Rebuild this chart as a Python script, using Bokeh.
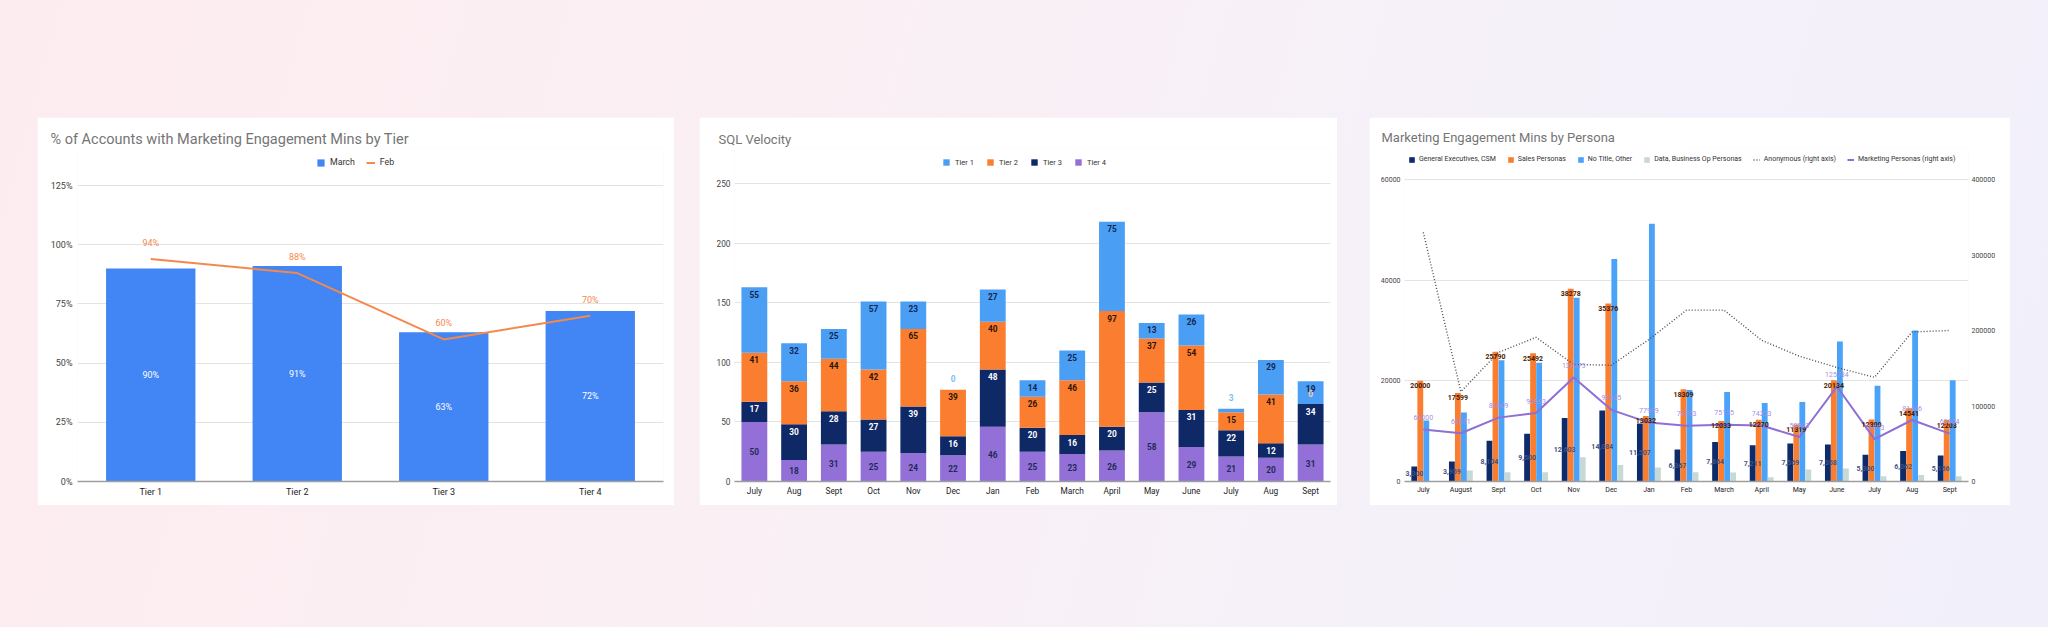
import numpy as np
from bokeh.plotting import figure
from bokeh.models import (ColumnDataSource, Range1d, FixedTicker, LinearAxis, Legend,
                          LegendItem, PrintfTickFormatter)
from bokeh.layouts import row
from bokeh.embed import file_html
from bokeh.resources import INLINE
from bokeh.core.properties import value

FONT = "Roboto"

# ---------------- data ----------------
# Panel 1
tiers = ["Tier 1", "Tier 2", "Tier 3", "Tier 4"]
march_pct = [90, 91, 63, 72]
feb_pct = [94, 88, 60, 70]

# Panel 2
sql_months = ["July", "Aug", "Sept", "Oct", "Nov", "Dec", "Jan", "Feb", "March",
              "April", "May", "June", "July", "Aug", "Sept"]
tier1 = [55, 32, 25, 57, 23, 0, 27, 14, 25, 75, 13, 26, 3, 29, 19]
tier2 = [41, 36, 44, 42, 65, 39, 40, 26, 46, 97, 37, 54, 15, 41, 0]
tier3 = [17, 30, 28, 27, 39, 16, 48, 20, 16, 20, 25, 31, 22, 12, 34]
tier4 = [50, 18, 31, 25, 24, 22, 46, 25, 23, 26, 58, 29, 21, 20, 31]

# Panel 3
persona_months = ["July", "August", "Sept", "Oct", "Nov", "Dec", "Jan", "Feb", "March",
                  "April", "May", "June", "July", "Aug", "Sept"]
gen_exec = [3000, 3959, 8104, 9500, 12603, 14084, 11507, 6367, 7864, 7211, 7569, 7358, 5300, 6062, 5156]
sales = [20000, 17599, 25790, 25492, 38278, 35376, 13032, 18309, 12033, 12270, 11319, 20134, 12300, 14541, 12203]
no_title = [12100, 13700, 24100, 23600, 36500, 44200, 51200, 18200, 17800, 15600, 15800, 27800, 19000, 30000, 20100]
data_bizops = [0, 2200, 1850, 1850, 4800, 3300, 2760, 1850, 1800, 850, 2400, 2600, 1050, 1300, 1050]
anonymous = [330000, 119000, 171000, 191000, 155000, 154000, 188000, 227000, 227000, 187000,
             166000, 151000, 138000, 198000, 200000]
marketing = [69000, 63891, 84609, 90603, 137875, 94905, 77989, 73933, 75125, 74223, 58923,
             125784, 56073, 81446, 63334]

# ---------------- layout constants (page pixels) ----------------
CARD_TOP, CARD_BOTTOM = 117, 505
CARD_H = CARD_BOTTOM - CARD_TOP
FRAME_TOP, FRAME_BOTTOM = 148, 481   # shared by the three panels (row aligns frames)
GRID = "#e3e3e3"
AXIS = "#9e9e9e"
TICK_TXT = "#444444"
TITLE_TXT = "#757575"


def base_fig(card, frame_lr, grid_top, ymax, n, labels, margin_left, xfs, yfs, ystand, xstand):
    cl, cr = card
    fl, fr = frame_lr
    ft, fb = FRAME_TOP, FRAME_BOTTOM
    y_end = ymax * (fb - ft) / (fb - grid_top)
    p = figure(width=cr - cl, height=CARD_H, x_range=Range1d(-0.5, n - 0.5), y_range=Range1d(0, y_end),
               output_backend="svg", toolbar_location=None,
               min_border_left=fl - cl, min_border_right=cr - fr, min_border_top=ft - CARD_TOP,
               min_border_bottom=CARD_BOTTOM - fb, margin=(CARD_TOP, 0, 0, margin_left))
    p.border_fill_color = "white"
    p.background_fill_color = "white"
    p.outline_line_color = None
    p.xgrid.grid_line_color = None
    p.ygrid.grid_line_color = GRID
    p.ygrid.grid_line_width = 1
    xa = p.xaxis[0]
    xa.ticker = FixedTicker(ticks=list(range(n)))
    xa.major_label_overrides = {i: lab for i, lab in enumerate(labels)}
    xa.axis_line_color = AXIS
    xa.axis_line_width = 1.5
    xa.major_tick_line_color = None
    xa.minor_tick_line_color = None
    xa.major_tick_out = 0
    xa.major_label_standoff = xstand
    xa.major_label_text_font = FONT
    xa.major_label_text_font_size = xfs
    xa.major_label_text_color = "#222222"
    ya = p.yaxis[0]
    ya.axis_line_color = None
    ya.major_tick_line_color = None
    ya.minor_tick_line_color = None
    ya.major_tick_out = 0
    ya.major_label_standoff = ystand
    ya.major_label_text_font = FONT
    ya.major_label_text_font_size = yfs
    ya.major_label_text_color = TICK_TXT
    return p, y_end


def set_title(p, text, title_x, frame_left, size, standoff):
    p.title.text = text
    p.title.align = "left"
    p.title.offset = title_x - frame_left
    p.title.text_font = FONT
    p.title.text_font_size = size
    p.title.text_font_style = "normal"
    p.title.text_color = TITLE_TXT
    p.title.vertical_align = "middle"
    p.title.standoff = standoff


def make_legend(items, frame_left, glyph_left, center_y, fs, glyph, label_h, spacing, standoff):
    bottom = center_y + label_h / 2
    lg = Legend(items=items, location=(glyph_left - frame_left, FRAME_BOTTOM - bottom), orientation="horizontal",
                glyph_width=glyph, glyph_height=glyph, label_height=label_h,
                label_standoff=standoff, spacing=spacing, padding=0, margin=0,
                border_line_color=None, background_fill_alpha=0,
                label_text_font=FONT, label_text_font_size=fs, label_text_color="#333333",
                label_text_baseline="middle")
    return lg


# ---------------- Panel 1 ----------------
BLUE1 = "#4285f4"
ORANGE1 = "#f4894b"
n1 = len(tiers)
x1 = np.arange(n1)
card1 = (37, 674)
frame1 = (77, 663)
p1, _ = base_fig(card1, frame1, 185, 125, n1, tiers, 37, "9px", "9px", 5, 5)
p1.yaxis[0].ticker = FixedTicker(ticks=[0, 25, 50, 75, 100, 125])
p1.yaxis[0].formatter = PrintfTickFormatter(format="%d%%")
src1 = ColumnDataSource(dict(x=x1, march=march_pct, feb=feb_pct,
                             mid=[v / 2 for v in march_pct],
                             mlab=[f"{v}%" for v in march_pct],
                             flab=[f"{v}%" for v in feb_pct]))
r_bar1 = p1.vbar(x="x", top="march", width=0.61, source=src1, fill_color=BLUE1, line_color=None)
r_line1 = p1.line(x="x", y="feb", source=src1, line_color=ORANGE1, line_width=2)
p1.text(x="x", y="mid", text="mlab", source=src1, text_color="white", text_font=value(FONT),
        text_font_size="9px", text_align="center", text_baseline="middle")
p1.text(x="x", y="feb", text="flab", source=src1, text_color=ORANGE1, text_font=value(FONT),
        text_font_size="9px", text_align="center", text_baseline="middle", y_offset=-16)
set_title(p1, "% of Accounts with Marketing Engagement Mins by Tier", 50, frame1[0], "14.5px", 0)
p1.add_layout(make_legend([LegendItem(label="March", renderers=[r_bar1]),
                           LegendItem(label="Feb", renderers=[r_line1])],
                          frame1[0], 316, 162, "8.8px", 9, 12, 11, 5))

# ---------------- Panel 2 ----------------
T1C, T2C, T3C, T4C = "#4a9ff5", "#fb7d2f", "#0f2866", "#9370d8"
T1L, T2L = "#7dbcf7", "#fdc9a6"
n2 = len(sql_months)
x2 = np.arange(n2)
t1 = np.array(tier1); t2 = np.array(tier2); t3 = np.array(tier3); t4 = np.array(tier4)
b3 = t4; b2 = t4 + t3; b1 = t4 + t3 + t2; top1 = b1 + t1
card2 = (699, 1337)
frame2 = (734, 1330)
p2, _ = base_fig(card2, frame2, 183, 250, n2, sql_months, 25, "8.3px", "8.3px", 4, 4)
p2.yaxis[0].ticker = FixedTicker(ticks=[0, 50, 100, 150, 200, 250])
segs = [("Tier 4", t4, np.zeros(n2), t4, T4C), ("Tier 3", t3, b3, b2, T3C),
        ("Tier 2", t2, b2, b1, T2C), ("Tier 1", t1, b1, top1, T1C)]
rend2 = {}
for name, vals, bot, top, col in segs:
    s = ColumnDataSource(dict(x=x2, bottom=bot, top=top))
    rend2[name] = p2.vbar(x="x", bottom="bottom", top="top", width=0.65, source=s,
                          fill_color=col, line_color=None)

label_cols = {"Tier 4": "#1f2a55", "Tier 3": "white", "Tier 2": "#2a1505", "Tier 1": "#13254f"}
light_cols = {"Tier 1": T1L, "Tier 2": T2L, "Tier 3": "#6a7fb0", "Tier 4": "#b9a5ea"}
for name, vals, bot, top, col in segs:
    norm = vals > 5
    if name == "Tier 4":
        ys = (bot + top) / 2.0
        s = ColumnDataSource(dict(x=x2[norm], y=ys[norm], t=[str(v) for v in vals[norm]]))
        p2.text(x="x", y="y", text="t", source=s, text_color=label_cols[name], text_font=value(FONT),
                text_font_size="8.3px", text_font_style="bold", text_align="center", text_baseline="middle")
    else:
        s = ColumnDataSource(dict(x=x2[norm], y=top[norm], t=[str(v) for v in vals[norm]]))
        p2.text(x="x", y="y", text="t", source=s, text_color=label_cols[name], text_font=value(FONT),
                text_font_size="8.3px", text_font_style="bold", text_align="center", text_baseline="middle",
                y_offset=7)
    small = ~norm
    if small.any():
        s = ColumnDataSource(dict(x=x2[small], y=top[small], t=[str(v) for v in vals[small]]))
        p2.text(x="x", y="y", text="t", source=s, text_color=light_cols[name], text_font=value(FONT),
                text_font_size="8.3px", text_font_style="bold", text_align="center", text_baseline="middle",
                y_offset=-11)
set_title(p2, "SQL Velocity", 718, frame2[0], "13px", 1)
p2.add_layout(make_legend([LegendItem(label=k, renderers=[rend2[k]]) for k in ["Tier 1", "Tier 2", "Tier 3", "Tier 4"]],
                          frame2[0], 942, 162, "7.5px", 8, 12, 11, 5))

# ---------------- Panel 3 ----------------
NAVY, ORANGE3, LBLUE, GREY = "#0d2a6b", "#fb7d2f", "#4aa3f8", "#c6d9d6"
PURPLE, DOT = "#8e6fd6", "#4a4a4a"
n3 = len(persona_months)
x3 = np.arange(n3)
card3 = (1369, 2010)
frame3 = (1404, 1968)
p3, yend3 = base_fig(card3, frame3, 179, 60000, n3, persona_months, 32, "7px", "7px", 4, 4)
p3.yaxis[0].ticker = FixedTicker(ticks=[0, 20000, 40000, 60000])
p3.yaxis[0].formatter = PrintfTickFormatter(format="%d")
p3.extra_y_ranges = {"right": Range1d(0, yend3 * 400000 / 60000)}
ra = LinearAxis(y_range_name="right", ticker=FixedTicker(ticks=[0, 100000, 200000, 300000, 400000]),
                formatter=PrintfTickFormatter(format="%d"))
ra.axis_line_color = None
ra.major_tick_line_color = None
ra.minor_tick_line_color = None
ra.major_tick_out = 0
ra.major_label_standoff = 3
ra.major_label_text_font = FONT
ra.major_label_text_font_size = "7px"
ra.major_label_text_color = TICK_TXT
p3.add_layout(ra, "right")

bw = 0.155
offs = [-0.24, -0.08, 0.08, 0.24]
bar_specs = [("General Executives, CSM", gen_exec, NAVY), ("Sales Personas", sales, ORANGE3),
             ("No Title, Other", no_title, LBLUE), ("Data, Business Op Personas", data_bizops, GREY)]
rend3 = {}
for (name, vals, col), off in zip(bar_specs, offs):
    s = ColumnDataSource(dict(x=x3 + off, top=vals))
    rend3[name] = p3.vbar(x="x", top="top", width=bw, source=s, fill_color=col, line_color=None)
s_anon = ColumnDataSource(dict(x=x3, y=anonymous))
rend3["Anonymous (right axis)"] = p3.line(x="x", y="y", source=s_anon, y_range_name="right",
                                          line_color=DOT, line_width=1.4, line_dash="1 2")
s_mkt = ColumnDataSource(dict(x=x3, y=marketing, t=[str(v) for v in marketing]))
rend3["Marketing Personas (right axis)"] = p3.line(x="x", y="y", source=s_mkt, y_range_name="right",
                                                   line_color=PURPLE, line_width=2)

s_ge = ColumnDataSource(dict(x=x3 + offs[0], y=[v / 2 for v in gen_exec], t=[f"{v:,}" for v in gen_exec]))
p3.text(x="x", y="y", text="t", source=s_ge, text_color="#46527f",
        text_font=value(FONT), text_font_size="7px", text_font_style="bold",
        text_align="center", text_baseline="middle")
s_sl = ColumnDataSource(dict(x=x3 + offs[1], y=sales, t=[str(v) for v in sales]))
p3.text(x="x", y="y", text="t", source=s_sl, text_color="#4a1a00",
        text_font=value(FONT), text_font_size="7px", text_font_style="bold",
        text_align="center", text_baseline="middle", y_offset=5)
p3.text(x="x", y="y", text="t", source=s_mkt, y_range_name="right", text_color="#a48fe3",
        text_font=value(FONT), text_font_size="7px", text_align="center", text_baseline="middle",
        y_offset=-12)
set_title(p3, "Marketing Engagement Mins by Persona", 1381, frame3[0], "13px", 5)
leg_names = ["General Executives, CSM", "Sales Personas", "No Title, Other", "Data, Business Op Personas",
             "Anonymous (right axis)", "Marketing Personas (right axis)"]
p3.add_layout(make_legend([LegendItem(label=k, renderers=[rend3[k]]) for k in leg_names],
                          frame3[0], 1408, 159, "7px", 7, 11, 11, 4))

layout = row(p1, p2, p3, width=2048, height=627,
             styles={"background": "linear-gradient(105deg, #fdecef 0%, #faeff3 35%, #f5f1f9 70%, #f1effa 100%)"})

open("out.html", "w").write(file_html(layout, INLINE))
